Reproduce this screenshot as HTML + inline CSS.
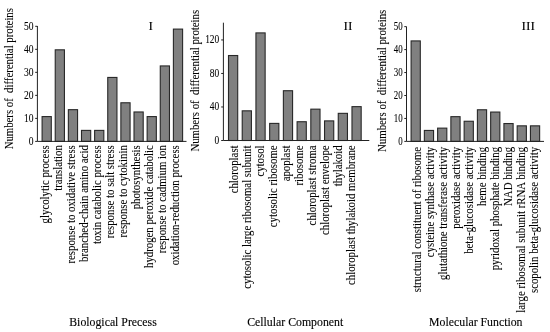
<!DOCTYPE html><html><head><meta charset="utf-8"><title>GO classification</title>
<style>html,body{margin:0;padding:0;background:#fff}svg{display:block}text{font-family:"Liberation Serif","Times New Roman",serif;fill:#000;stroke:#000;stroke-width:0.08px;paint-order:stroke}</style></head><body>
<svg width="550" height="332" viewBox="0 0 550 332">
<rect width="550" height="332" fill="#fff"/>
<g>
<rect x="42.10" y="116.58" width="9.20" height="24.82" fill="#808080" stroke="#282828" stroke-width="1.1"/>
<rect x="55.23" y="49.82" width="9.20" height="91.58" fill="#808080" stroke="#282828" stroke-width="1.1"/>
<rect x="68.36" y="109.67" width="9.20" height="31.73" fill="#808080" stroke="#282828" stroke-width="1.1"/>
<rect x="81.49" y="130.39" width="9.20" height="11.01" fill="#808080" stroke="#282828" stroke-width="1.1"/>
<rect x="94.62" y="130.39" width="9.20" height="11.01" fill="#808080" stroke="#282828" stroke-width="1.1"/>
<rect x="107.75" y="77.44" width="9.20" height="63.96" fill="#808080" stroke="#282828" stroke-width="1.1"/>
<rect x="120.88" y="102.77" width="9.20" height="38.63" fill="#808080" stroke="#282828" stroke-width="1.1"/>
<rect x="134.01" y="111.97" width="9.20" height="29.43" fill="#808080" stroke="#282828" stroke-width="1.1"/>
<rect x="147.14" y="116.58" width="9.20" height="24.82" fill="#808080" stroke="#282828" stroke-width="1.1"/>
<rect x="160.27" y="65.93" width="9.20" height="75.47" fill="#808080" stroke="#282828" stroke-width="1.1"/>
<rect x="173.40" y="29.10" width="9.20" height="112.30" fill="#808080" stroke="#282828" stroke-width="1.1"/>
<path d="M37.40 26.00V141.40H186.50" fill="none" stroke="#222" stroke-width="1"/>
<path d="M35.20 141.40H37.40" stroke="#222" stroke-width="1"/>
<text transform="translate(33.60 144.90) scale(0.785 1)" font-size="12.2" text-anchor="end">0</text>
<path d="M35.20 118.38H37.40" stroke="#222" stroke-width="1"/>
<text transform="translate(33.60 121.88) scale(0.785 1)" font-size="12.2" text-anchor="end">10</text>
<path d="M35.20 95.36H37.40" stroke="#222" stroke-width="1"/>
<text transform="translate(33.60 98.86) scale(0.785 1)" font-size="12.2" text-anchor="end">20</text>
<path d="M35.20 72.34H37.40" stroke="#222" stroke-width="1"/>
<text transform="translate(33.60 75.84) scale(0.785 1)" font-size="12.2" text-anchor="end">30</text>
<path d="M35.20 49.32H37.40" stroke="#222" stroke-width="1"/>
<text transform="translate(33.60 52.82) scale(0.785 1)" font-size="12.2" text-anchor="end">40</text>
<path d="M35.20 26.30H37.40" stroke="#222" stroke-width="1"/>
<text transform="translate(33.60 29.80) scale(0.785 1)" font-size="12.2" text-anchor="end">50</text>
<text transform="translate(48.80 145.20) rotate(-90) scale(0.9391 1)" font-size="11.5" text-anchor="end">glycolytic process</text>
<text transform="translate(61.80 145.20) rotate(-90) scale(0.9391 1)" font-size="11.5" text-anchor="end">translation</text>
<text transform="translate(74.80 145.20) rotate(-90) scale(0.9391 1)" font-size="11.5" text-anchor="end">response to oxidative stress</text>
<text transform="translate(87.80 145.20) rotate(-90) scale(0.9391 1)" font-size="11.5" text-anchor="end">branched-chain amino acid</text>
<text transform="translate(100.80 145.20) rotate(-90) scale(0.9391 1)" font-size="11.5" text-anchor="end">toxin catabolic process</text>
<text transform="translate(113.80 145.20) rotate(-90) scale(0.9391 1)" font-size="11.5" text-anchor="end">response to salt stress</text>
<text transform="translate(126.80 145.20) rotate(-90) scale(0.9391 1)" font-size="11.5" text-anchor="end">response to cytokinin</text>
<text transform="translate(139.80 145.20) rotate(-90) scale(0.9391 1)" font-size="11.5" text-anchor="end">photosynthesis</text>
<text transform="translate(152.80 145.20) rotate(-90) scale(0.9391 1)" font-size="11.5" text-anchor="end">hydrogen peroxide catabolic</text>
<text transform="translate(165.80 145.20) rotate(-90) scale(0.9391 1)" font-size="11.5" text-anchor="end">response to cadmium ion</text>
<text transform="translate(178.80 145.20) rotate(-90) scale(0.9391 1)" font-size="11.5" text-anchor="end">oxidation-reduction process</text>
<text transform="translate(13.30 149.30) rotate(-90) scale(0.9348 1)" font-size="11.5" xml:space="preserve">Numbers of  differential proteins</text>
<text x="150.70" y="29.70" font-size="13.45" text-anchor="middle">I</text>
<text x="113.00" y="325.70" font-size="11.8" text-anchor="middle" style="stroke-width:0.12px">Biological Precess</text>
</g>
<g>
<rect x="228.50" y="55.52" width="9.20" height="84.98" fill="#808080" stroke="#282828" stroke-width="1.1"/>
<rect x="242.22" y="110.83" width="9.20" height="29.67" fill="#808080" stroke="#282828" stroke-width="1.1"/>
<rect x="255.94" y="32.90" width="9.20" height="107.60" fill="#808080" stroke="#282828" stroke-width="1.1"/>
<rect x="269.66" y="123.40" width="9.20" height="17.10" fill="#808080" stroke="#282828" stroke-width="1.1"/>
<rect x="283.38" y="90.72" width="9.20" height="49.78" fill="#808080" stroke="#282828" stroke-width="1.1"/>
<rect x="297.10" y="121.73" width="9.20" height="18.77" fill="#808080" stroke="#282828" stroke-width="1.1"/>
<rect x="310.82" y="109.16" width="9.20" height="31.34" fill="#808080" stroke="#282828" stroke-width="1.1"/>
<rect x="324.54" y="120.89" width="9.20" height="19.61" fill="#808080" stroke="#282828" stroke-width="1.1"/>
<rect x="338.26" y="113.35" width="9.20" height="27.15" fill="#808080" stroke="#282828" stroke-width="1.1"/>
<rect x="351.98" y="106.64" width="9.20" height="33.86" fill="#808080" stroke="#282828" stroke-width="1.1"/>
<path d="M223.40 22.70V140.50H369.30" fill="none" stroke="#222" stroke-width="1"/>
<path d="M221.20 140.50H223.40" stroke="#222" stroke-width="1"/>
<text transform="translate(219.30 144.00) scale(0.775 1)" font-size="12.2" text-anchor="end">0</text>
<path d="M221.20 106.98H223.40" stroke="#222" stroke-width="1"/>
<text transform="translate(219.30 110.48) scale(0.775 1)" font-size="12.2" text-anchor="end">40</text>
<path d="M221.20 73.46H223.40" stroke="#222" stroke-width="1"/>
<text transform="translate(219.30 76.96) scale(0.775 1)" font-size="12.2" text-anchor="end">80</text>
<path d="M221.20 39.94H223.40" stroke="#222" stroke-width="1"/>
<text transform="translate(219.30 43.44) scale(0.775 1)" font-size="12.2" text-anchor="end">120</text>
<text transform="translate(238.10 145.40) rotate(-90) scale(0.9391 1)" font-size="11.5" text-anchor="end">chloroplast</text>
<text transform="translate(251.04 145.40) rotate(-90) scale(0.9391 1)" font-size="11.5" text-anchor="end">cytosolic large ribosomal subunit</text>
<text transform="translate(263.98 145.40) rotate(-90) scale(0.9391 1)" font-size="11.5" text-anchor="end">cytosol</text>
<text transform="translate(276.92 145.40) rotate(-90) scale(0.9391 1)" font-size="11.5" text-anchor="end">cytosolic ribosome</text>
<text transform="translate(289.86 145.40) rotate(-90) scale(0.9391 1)" font-size="11.5" text-anchor="end">apoplast</text>
<text transform="translate(302.80 145.40) rotate(-90) scale(0.9391 1)" font-size="11.5" text-anchor="end">ribosome</text>
<text transform="translate(315.74 145.40) rotate(-90) scale(0.9391 1)" font-size="11.5" text-anchor="end">chloroplast stroma</text>
<text transform="translate(328.68 145.40) rotate(-90) scale(0.9391 1)" font-size="11.5" text-anchor="end">chloroplast envelope</text>
<text transform="translate(341.62 145.40) rotate(-90) scale(0.9391 1)" font-size="11.5" text-anchor="end">thylakoid</text>
<text transform="translate(354.56 145.40) rotate(-90) scale(0.9391 1)" font-size="11.5" text-anchor="end">chloroplast thylakoid membrane</text>
<text transform="translate(198.60 151.60) rotate(-90) scale(0.9391 1)" font-size="11.5" xml:space="preserve">Numbers of  differential proteins</text>
<text x="347.95" y="29.80" font-size="13.45" text-anchor="middle">II</text>
<text x="295.20" y="325.70" font-size="11.8" text-anchor="middle" style="stroke-width:0.12px">Cellular Component</text>
</g>
<g>
<rect x="411.10" y="40.92" width="9.20" height="100.48" fill="#808080" stroke="#282828" stroke-width="1.1"/>
<rect x="424.36" y="130.43" width="9.20" height="10.97" fill="#808080" stroke="#282828" stroke-width="1.1"/>
<rect x="437.62" y="128.13" width="9.20" height="13.27" fill="#808080" stroke="#282828" stroke-width="1.1"/>
<rect x="450.88" y="116.66" width="9.20" height="24.74" fill="#808080" stroke="#282828" stroke-width="1.1"/>
<rect x="464.14" y="121.25" width="9.20" height="20.16" fill="#808080" stroke="#282828" stroke-width="1.1"/>
<rect x="477.40" y="109.77" width="9.20" height="31.63" fill="#808080" stroke="#282828" stroke-width="1.1"/>
<rect x="490.66" y="112.06" width="9.20" height="29.34" fill="#808080" stroke="#282828" stroke-width="1.1"/>
<rect x="503.92" y="123.54" width="9.20" height="17.86" fill="#808080" stroke="#282828" stroke-width="1.1"/>
<rect x="517.18" y="125.84" width="9.20" height="15.56" fill="#808080" stroke="#282828" stroke-width="1.1"/>
<rect x="530.44" y="125.84" width="9.20" height="15.56" fill="#808080" stroke="#282828" stroke-width="1.1"/>
<path d="M406.50 26.60V141.40H544.00" fill="none" stroke="#222" stroke-width="1"/>
<path d="M404.30 141.40H406.50" stroke="#222" stroke-width="1"/>
<text transform="translate(402.60 144.90) scale(0.73 1)" font-size="12.2" text-anchor="end">0</text>
<path d="M404.30 118.45H406.50" stroke="#222" stroke-width="1"/>
<text transform="translate(402.60 121.95) scale(0.73 1)" font-size="12.2" text-anchor="end">10</text>
<path d="M404.30 95.50H406.50" stroke="#222" stroke-width="1"/>
<text transform="translate(402.60 99.00) scale(0.73 1)" font-size="12.2" text-anchor="end">20</text>
<path d="M404.30 72.55H406.50" stroke="#222" stroke-width="1"/>
<text transform="translate(402.60 76.05) scale(0.73 1)" font-size="12.2" text-anchor="end">30</text>
<path d="M404.30 49.60H406.50" stroke="#222" stroke-width="1"/>
<text transform="translate(402.60 53.10) scale(0.73 1)" font-size="12.2" text-anchor="end">40</text>
<path d="M404.30 26.65H406.50" stroke="#222" stroke-width="1"/>
<text transform="translate(402.60 30.15) scale(0.73 1)" font-size="12.2" text-anchor="end">50</text>
<text transform="translate(420.60 146.90) rotate(-90) scale(0.9391 1)" font-size="11.5" text-anchor="end">structural constituent of ribosome</text>
<text transform="translate(433.64 146.90) rotate(-90) scale(0.9391 1)" font-size="11.5" text-anchor="end">cysteine synthase activity</text>
<text transform="translate(446.68 146.90) rotate(-90) scale(0.9391 1)" font-size="11.5" text-anchor="end">glutathione transferase activity</text>
<text transform="translate(459.72 146.90) rotate(-90) scale(0.9391 1)" font-size="11.5" text-anchor="end">peroxidase activity</text>
<text transform="translate(472.76 146.90) rotate(-90) scale(0.9391 1)" font-size="11.5" text-anchor="end">beta-glucosidase activity</text>
<text transform="translate(485.80 146.90) rotate(-90) scale(0.9391 1)" font-size="11.5" text-anchor="end">heme binding</text>
<text transform="translate(498.84 146.90) rotate(-90) scale(0.9391 1)" font-size="11.5" text-anchor="end">pyridoxal phosphate binding</text>
<text transform="translate(511.88 146.90) rotate(-90) scale(0.9391 1)" font-size="11.5" text-anchor="end">NAD binding</text>
<text transform="translate(524.92 146.90) rotate(-90) scale(0.9391 1)" font-size="11.5" text-anchor="end">large ribosomal subunit rRNA binding</text>
<text transform="translate(537.96 146.90) rotate(-90) scale(0.9391 1)" font-size="11.5" text-anchor="end">scopolin beta-glucosidase activity</text>
<text transform="translate(386.00 152.00) rotate(-90) scale(0.9435 1)" font-size="11.5" xml:space="preserve">Numbers of  differential proteins</text>
<text x="528.30" y="29.70" font-size="13.45" text-anchor="middle">III</text>
<text x="475.80" y="325.70" font-size="11.8" text-anchor="middle" style="stroke-width:0.12px">Molecular Function</text>
</g>
</svg></body></html>
